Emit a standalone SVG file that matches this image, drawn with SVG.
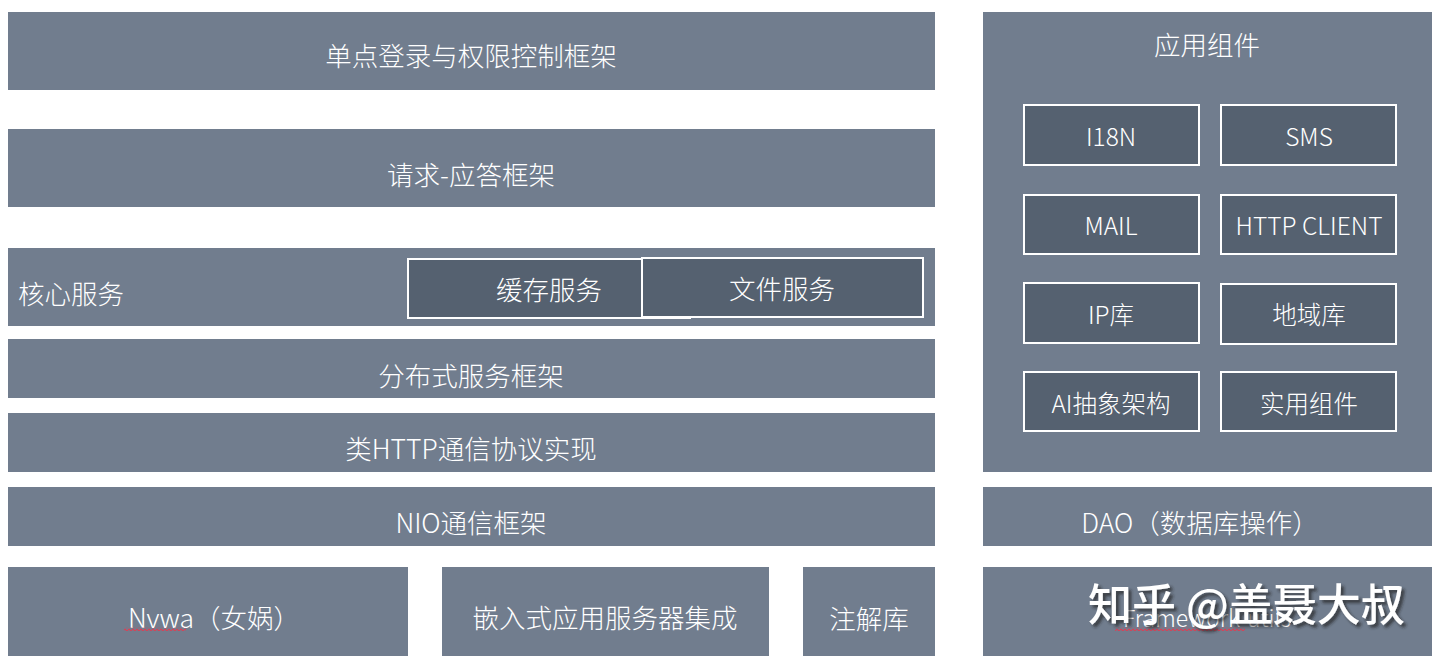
<svg xmlns="http://www.w3.org/2000/svg" width="1440" height="667" viewBox="0 0 1440 667">
<defs>
<style>
.blk{fill:#717d8e;}
.in{fill:#556170;stroke:#ffffff;stroke-width:2;}
.t{font-family:"Noto Sans CJK SC","Noto Sans",sans-serif;font-weight:300;fill:#ffffff;font-size:26.5px;text-anchor:middle;dominant-baseline:central;}
.ti{font-size:24.5px;}
.wavy{fill:none;stroke:#d0455a;stroke-width:1.2;}
</style>
<pattern id="wv" width="4" height="4" patternUnits="userSpaceOnUse"><path d="M0 2 L1 1 L3 3 L4 2" class="wavy"/></pattern>
<filter id="sh" x="-10%" y="-20%" width="130%" height="150%"><feDropShadow dx="3" dy="3" stdDeviation="1.5" flood-color="#222" flood-opacity="0.7"/></filter>
</defs>
<rect width="1440" height="667" fill="#ffffff"/>
<g id="sso"><rect class="blk" x="8" y="12" width="927" height="78"/><text class="t" x="471" y="54">单点登录与权限控制框架</text></g>
<g id="reqresp"><rect class="blk" x="8" y="129" width="927" height="78"/><text class="t" x="471" y="173">请求-应答框架</text></g>
<g id="core"><rect class="blk" x="8" y="248" width="927" height="78"/><text class="t" x="18" y="292" style="text-anchor:start">核心服务</text>
<g id="cache"><rect class="in" x="408" y="259" width="282" height="59"/><text class="t" x="549" y="288">缓存服务</text></g>
<g id="file"><rect class="in" x="642" y="258" width="281" height="59"/><text class="t" x="782" y="287">文件服务</text></g>
</g>
<g id="dist"><rect class="blk" x="8" y="339" width="927" height="59"/><text class="t" x="471" y="374">分布式服务框架</text></g>
<g id="http"><rect class="blk" x="8" y="413" width="927" height="59"/><text class="t" x="471" y="447">类HTTP通信协议实现</text></g>
<g id="nio"><rect class="blk" x="8" y="487" width="927" height="59"/><text class="t" x="471" y="521">NIO通信框架</text></g>
<g id="nvwa"><rect class="blk" x="8" y="567" width="400" height="89"/><text class="t" x="214" y="616">Nvwa（女娲）</text><rect x="124" y="627" width="62" height="4" fill="url(#wv)"/></g>
<g id="embed"><rect class="blk" x="442" y="567" width="327" height="89"/><text class="t" x="605" y="616">嵌入式应用服务器集成</text></g>
<g id="anno"><rect class="blk" x="803" y="567" width="132" height="89"/><text class="t" x="869" y="617">注解库</text></g>
<g id="comp"><rect class="blk" x="983" y="12" width="449" height="460"/><text class="t" x="1207" y="43">应用组件</text>
<g id="i18n"><rect class="in" x="1024" y="105" width="175" height="60"/><text class="t ti" x="1111" y="135">I18N</text></g>
<g id="sms"><rect class="in" x="1221" y="105" width="175" height="60"/><text class="t ti" x="1309" y="135">SMS</text></g>
<g id="mail"><rect class="in" x="1024" y="195" width="175" height="59"/><text class="t ti" x="1111" y="224">MAIL</text></g>
<g id="httpc"><rect class="in" x="1221" y="195" width="175" height="59"/><text class="t ti" x="1309" y="224">HTTP CLIENT</text></g>
<g id="ip"><rect class="in" x="1024" y="283" width="175" height="60"/><text class="t ti" x="1111" y="313">IP库</text></g>
<g id="region"><rect class="in" x="1221" y="284" width="175" height="60"/><text class="t ti" x="1309" y="313">地域库</text></g>
<g id="ai"><rect class="in" x="1024" y="372" width="175" height="59"/><text class="t ti" x="1111" y="402">AI抽象架构</text></g>
<g id="util"><rect class="in" x="1221" y="372" width="175" height="59"/><text class="t ti" x="1309" y="402">实用组件</text></g>
</g>
<g id="dao"><rect class="blk" x="983" y="487" width="449" height="59"/><text class="t" x="1200" y="521">DAO（数据库操作）</text></g>
<g id="fw"><rect class="blk" x="983" y="567" width="449" height="89"/><text class="t" x="1207" y="617" style="font-size:23px">Framework-utils</text><rect x="1115" y="627" width="130" height="4" fill="url(#wv)"/>
<text x="1088" y="621" style="font-family:'Noto Sans CJK SC',sans-serif;font-size:44px;font-weight:500;fill:#ffffff" filter="url(#sh)">知乎 @盖聂大叔</text></g>
</svg>
